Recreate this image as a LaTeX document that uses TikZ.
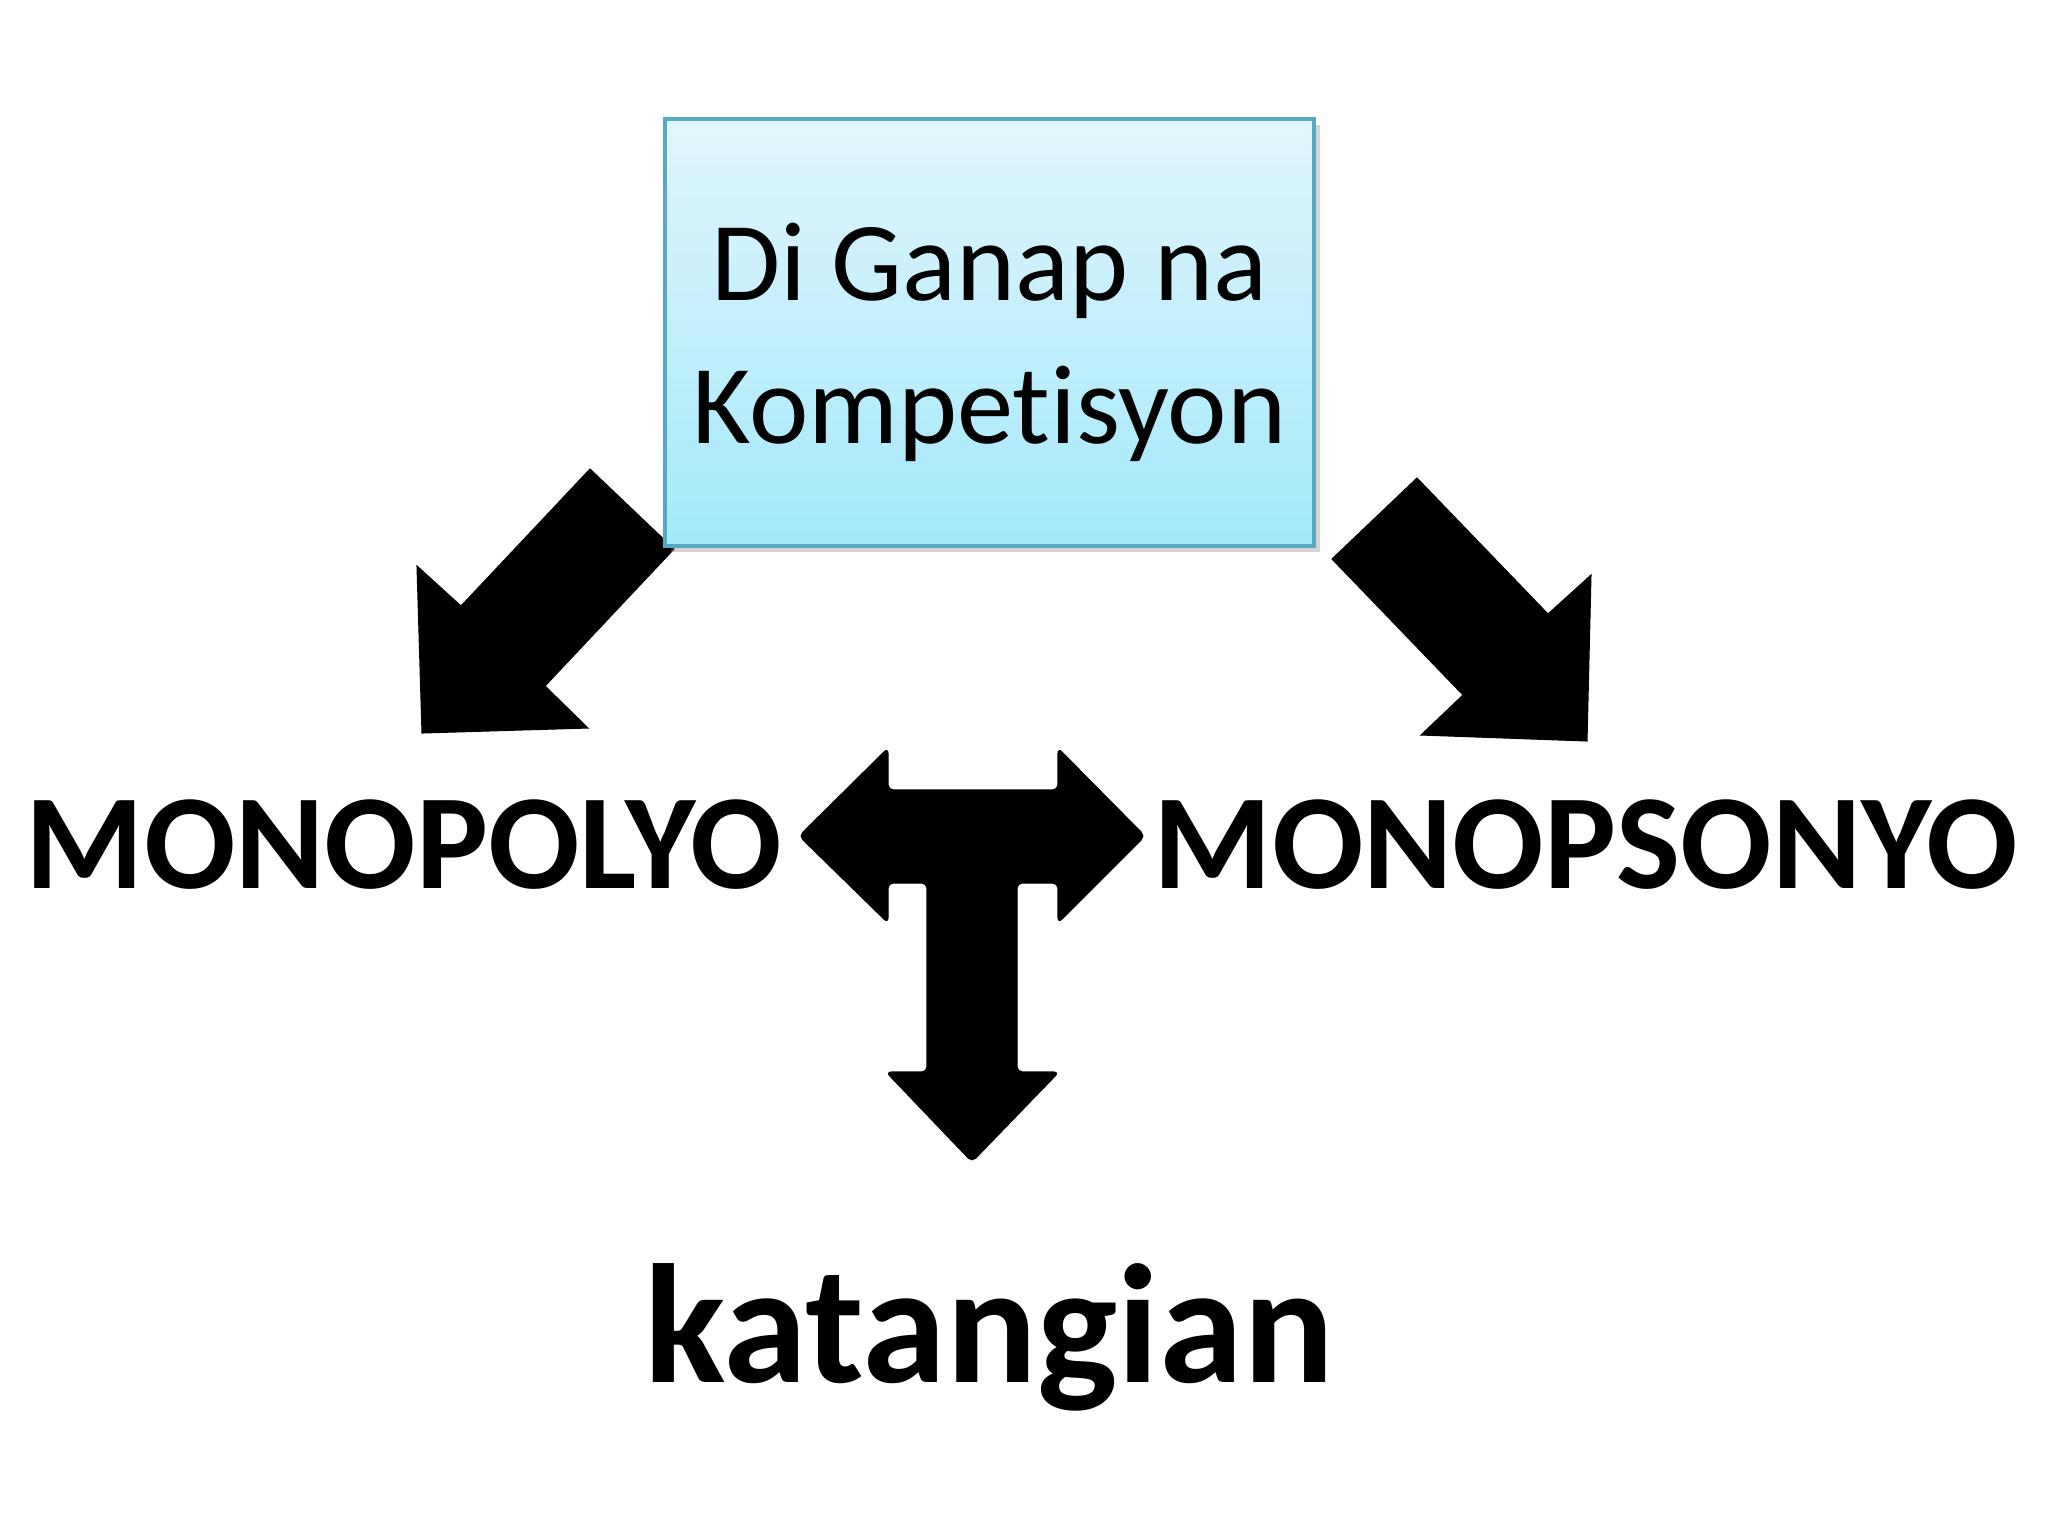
\documentclass[tikz,border=0pt]{standalone}
\usepackage{fontspec}
\setmainfont{Carlito}[Ligatures = NoCommon]
\usetikzlibrary{shadows}

\definecolor{boxtop}{RGB}{226,246,252}
\definecolor{boxbottom}{RGB}{163,232,251}
\definecolor{boxline}{RGB}{84,170,196}

\tikzset{
	topicbox/.style = {draw = boxline, line width = 1.2pt, top color = boxtop, bottom color = boxbottom,
		minimum width = 6.49cm, minimum height = 4.27cm, inner sep = 0pt,
		drop shadow = {shadow xshift = 0.6mm, shadow yshift = -0.6mm, opacity = 0.35}},
	topictext/.style = {align = center, inner sep = 0pt, font = \fontsize{32}{40.5}\selectfont},
	kindlabel/.style = {font = \fontsize{38.5}{46}\selectfont\bfseries, inner sep = 0pt, anchor = base},
	blockarrow/.style = {fill = black, draw = black, line width = 0.3pt}
}

\begin{document}
\begin{tikzpicture}[x = 0.01cm, y = -0.01cm]
	\useasboundingbox (0,0) rectangle (2048,1536);
	
	% arrows from the box
	\draw[blockarrow] (590,469) -- (674,549) -- (545,686) -- (588,728) -- (422,733) -- (417,566) -- (461,606) -- cycle;
	\draw[blockarrow] (1417,478) -- (1332,559) -- (1463,695) -- (1421,735) -- (1587,741) -- (1591,575) -- (1548,614) -- cycle;
	
	\node[topicbox] (topic) at (989.5,332.5) {};
	\node[topictext] (topiclabel) at ([yshift = -0.1cm]topic.center) {Di Ganap na\\Kompetisyon};
	
	\node[kindlabel] (mono) at (404,888) {MONOPOLYO};
	\node[kindlabel] (monops) at (1586,888) {MONOPSONYO};
	
	% three-way arrow
	\draw[blockarrow, rounded corners = 1.5pt] (799,836) -- (888,748) -- (888,790) -- (1058,790) -- (1058,748) -- (1145,836)
		-- (1058,923) -- (1058,883) -- (1017,883) -- (1017,1072) -- (1059,1072) -- (972,1162)
		-- (886,1072) -- (927,1072) -- (927,883) -- (888,883) -- (888,923) -- cycle;
	
	\node[kindlabel, font = \fontsize{48.2}{58}\selectfont\bfseries] (trait) at (989,1382) {katangian};
\end{tikzpicture}
\end{document}
